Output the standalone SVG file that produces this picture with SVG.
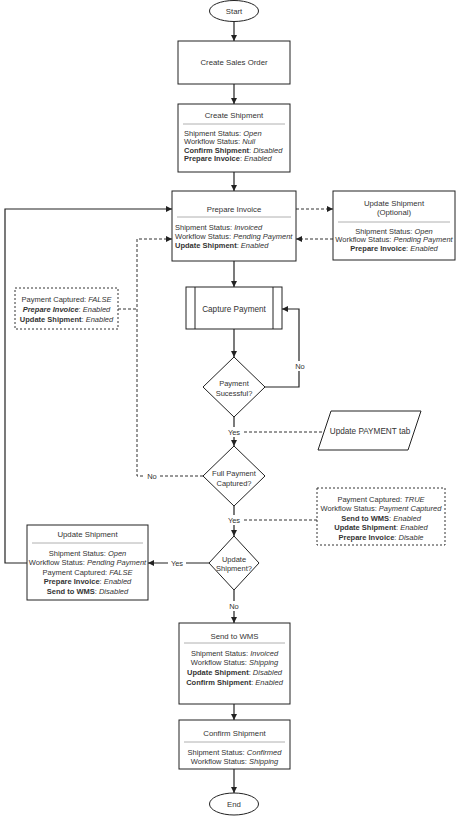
<svg xmlns="http://www.w3.org/2000/svg" width="457" height="816" viewBox="0 0 457 816">
<defs>
<marker id="ah" markerUnits="userSpaceOnUse" markerWidth="8" markerHeight="8" refX="7" refY="4" orient="auto">
<path d="M1,1 L7,4 L1,7 Z" fill="#222"/>
</marker>
<style>
text{font-family:"Liberation Sans",Arial,sans-serif;font-size:7.5px;fill:#333}
.t{font-size:7.8px}
.m{text-anchor:middle}
.b{font-weight:bold}
.i{font-style:italic}
.box{fill:#fff;stroke:#222;stroke-width:1}
.note{fill:#fff;stroke:#333;stroke-width:1;stroke-dasharray:2,2}
.sep{stroke:#b0b0b0;stroke-width:1}
.c{fill:none;stroke:#222;stroke-width:1.2}
.d{fill:none;stroke:#333;stroke-width:1;stroke-dasharray:3,2}
.lb{fill:#fff}
</style>
</defs>
<rect width="457" height="816" fill="#fff"/>

<g id="connectors">
<path class="c" d="M234,22 V41" marker-end="url(#ah)"/>
<path class="c" d="M234,84 V104" marker-end="url(#ah)"/>
<path class="c" d="M234,172 V191" marker-end="url(#ah)"/>
<path class="d" d="M296,209 H333" marker-end="url(#ah)"/>
<path class="d" d="M333,239 H296" marker-end="url(#ah)"/>
<path class="c" d="M234,261 V287" marker-end="url(#ah)"/>
<path class="c" d="M234,329 V357" marker-end="url(#ah)"/>
<path class="c" d="M265,387 H299 V309 H282" marker-end="url(#ah)"/>
<rect class="lb" x="293" y="361" width="13" height="10"/>
<text class="m" x="300" y="368.5">No</text>
<path class="c" d="M234,417 V446" marker-end="url(#ah)"/>
<path class="d" d="M244,432 H324"/>
<rect class="lb" x="225" y="427" width="18" height="10"/>
<text class="m" x="234" y="434.7">Yes</text>
<path class="d" d="M203,476 H137 V239 H172" marker-end="url(#ah)"/>
<rect class="lb" x="145" y="471" width="14" height="10"/>
<text class="m" x="152" y="478.7">No</text>
<path class="d" d="M118,309 H137"/>
<path class="c" d="M234,506 V536" marker-end="url(#ah)"/>
<path class="d" d="M244,520 H317"/>
<rect class="lb" x="225" y="515" width="18" height="10"/>
<text class="m" x="234" y="522.7">Yes</text>
<path class="c" d="M209,563 H148" marker-end="url(#ah)"/>
<rect class="lb" x="168" y="558" width="18" height="10"/>
<text class="m" x="177" y="565.7">Yes</text>
<path class="c" d="M27,563 H5 V209 H172" marker-end="url(#ah)"/>
<path class="c" d="M234,590 V623" marker-end="url(#ah)"/>
<rect class="lb" x="227" y="601" width="14" height="10"/>
<text class="m" x="234" y="608.7">No</text>
<path class="c" d="M234,704 V720" marker-end="url(#ah)"/>
<path class="c" d="M234,769 V793" marker-end="url(#ah)"/>
</g>

<g id="start">
<ellipse class="box" cx="234" cy="11" rx="24.5" ry="10.5"/>
<text class="m t" x="234" y="14">Start</text>
</g>

<g id="create-sales-order">
<rect class="box" x="178" y="41" width="112" height="43"/>
<text class="m t" x="234" y="65">Create Sales Order</text>
</g>

<g id="create-shipment">
<rect class="box" x="178" y="104" width="112" height="68"/>
<text class="m t" x="234" y="118">Create Shipment</text>
<line class="sep" x1="183" y1="124" x2="285" y2="124"/>
<text x="184" y="135.5">Shipment Status: <tspan class="i">Open</tspan></text>
<text x="184" y="144.3">Workflow Status: <tspan class="i">Null</tspan></text>
<text x="184" y="152.8"><tspan class="b">Confirm Shipment</tspan>: <tspan class="i">Disabled</tspan></text>
<text x="184" y="161.4"><tspan class="b">Prepare Invoice</tspan>: <tspan class="i">Enabled</tspan></text>
</g>

<g id="prepare-invoice">
<rect class="box" x="172" y="191" width="124" height="70"/>
<text class="m t" x="234" y="212">Prepare Invoice</text>
<line class="sep" x1="177" y1="217" x2="291" y2="217"/>
<text x="175" y="229.7">Shipment Status: <tspan class="i">Invoiced</tspan></text>
<text x="175" y="238.7">Workflow Status: <tspan class="i">Pending Payment</tspan></text>
<text x="175" y="247.7"><tspan class="b">Update Shipment</tspan>: <tspan class="i">Enabled</tspan></text>
</g>

<g id="update-shipment-optional">
<rect class="box" x="333" y="191" width="122" height="69"/>
<text class="m t" x="394" y="205.7">Update Shipment</text>
<text class="m t" x="394" y="214.7">(Optional)</text>
<line class="sep" x1="338" y1="222" x2="450" y2="222"/>
<text class="m" x="394" y="233.7">Shipment Status: <tspan class="i">Open</tspan></text>
<text class="m" x="394" y="242.2">Workflow Status: <tspan class="i">Pending Payment</tspan></text>
<text class="m" x="394" y="250.7"><tspan class="b">Prepare Invoice</tspan>: <tspan class="i">Enabled</tspan></text>
</g>

<g id="note-false">
<rect class="note" x="15" y="288" width="103" height="41"/>
<text class="m" x="66.5" y="301.7">Payment Captured: <tspan class="i">FALSE</tspan></text>
<text class="m" x="66.5" y="311.7"><tspan class="b i">Prepare Invoice</tspan>: <tspan class="i">Enabled</tspan></text>
<text class="m" x="66.5" y="321.7"><tspan class="b">Update Shipment</tspan>: <tspan class="i">Enabled</tspan></text>
</g>

<g id="capture-payment">
<rect class="box" x="186" y="287" width="96" height="42"/>
<line class="box" x1="195" y1="287" x2="195" y2="329"/>
<line class="box" x1="273" y1="287" x2="273" y2="329"/>
<text class="m" x="234" y="312" style="font-size:8.2px">Capture Payment</text>
</g>

<g id="payment-successful">
<polygon class="box" points="234,357 265,387 234,417 203,387"/>
<text class="m" x="234" y="385.7">Payment</text>
<text class="m" x="234" y="395.7">Sucessful?</text>
</g>

<g id="update-payment-tab">
<polygon class="box" points="331,411 421,411 408,450 318,450"/>
<text class="m" x="370" y="434" style="font-size:8.2px">Update PAYMENT tab</text>
</g>

<g id="full-payment-captured">
<polygon class="box" points="234,446 265,476 234,506 203,476"/>
<text class="m" x="234" y="475.7">Full Payment</text>
<text class="m" x="234" y="485.7">Captured?</text>
</g>

<g id="note-true">
<rect class="note" x="317" y="488" width="128" height="57"/>
<text class="m" x="381" y="501.7">Payment Captured: <tspan class="i">TRUE</tspan></text>
<text class="m" x="381" y="511.2">Workflow Status: <tspan class="i">Payment Captured</tspan></text>
<text class="m" x="381" y="520.7"><tspan class="b">Send to WMS</tspan>: <tspan class="i">Enabled</tspan></text>
<text class="m" x="381" y="530.2"><tspan class="b">Update Shipment</tspan>: <tspan class="i">Enabled</tspan></text>
<text class="m" x="381" y="539.7"><tspan class="b">Prepare Invoice</tspan>: <tspan class="i">Disable</tspan></text>
</g>

<g id="update-shipment-decision">
<polygon class="box" points="234,536 259,563 234,590 209,563"/>
<text class="m" x="234" y="562">Update</text>
<text class="m" x="234" y="571">Shipment?</text>
</g>

<g id="update-shipment">
<rect class="box" x="27" y="525" width="121" height="75"/>
<text class="m t" x="87.5" y="536.7">Update Shipment</text>
<line class="sep" x1="32" y1="543" x2="143" y2="543"/>
<text class="m" x="87.5" y="555.7">Shipment Status: <tspan class="i">Open</tspan></text>
<text class="m" x="87.5" y="565.3">Workflow Status: <tspan class="i">Pending Payment</tspan></text>
<text class="m" x="87.5" y="574.8">Payment Captured: <tspan class="i">FALSE</tspan></text>
<text class="m" x="87.5" y="584.3"><tspan class="b">Prepare Invoice</tspan>: <tspan class="i">Enabled</tspan></text>
<text class="m" x="87.5" y="593.8"><tspan class="b">Send to WMS</tspan>: <tspan class="i">Disabled</tspan></text>
</g>

<g id="send-to-wms">
<rect class="box" x="179" y="623" width="111" height="81"/>
<text class="m t" x="234.5" y="638.7">Send to WMS</text>
<line class="sep" x1="184" y1="643" x2="285" y2="643"/>
<text class="m" x="234.5" y="655.5">Shipment Status: <tspan class="i">Invoiced</tspan></text>
<text class="m" x="234.5" y="665">Workflow Status: <tspan class="i">Shipping</tspan></text>
<text class="m" x="234.5" y="675"><tspan class="b">Update Shipment</tspan>: <tspan class="i">Disabled</tspan></text>
<text class="m" x="234.5" y="684.5"><tspan class="b">Confirm Shipment</tspan>: <tspan class="i">Enabled</tspan></text>
</g>

<g id="confirm-shipment">
<rect class="box" x="179" y="720" width="111" height="49"/>
<text class="m t" x="234.5" y="735.7">Confirm Shipment</text>
<line class="sep" x1="184" y1="742" x2="285" y2="742"/>
<text class="m" x="234.5" y="754.7">Shipment Status: <tspan class="i">Confirmed</tspan></text>
<text class="m" x="234.5" y="763.7">Workflow Status: <tspan class="i">Shipping</tspan></text>
</g>

<g id="end">
<ellipse class="box" cx="234" cy="804" rx="24.5" ry="11"/>
<text class="m t" x="234" y="807">End</text>
</g>
</svg>
